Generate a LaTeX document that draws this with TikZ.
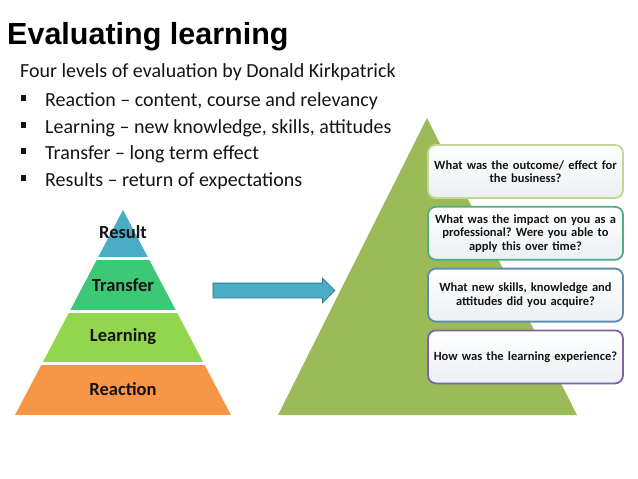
\documentclass[tikz,border=0pt]{standalone}
\usepackage{fontspec}
\setmainfont{Carlito}
\newfontfamily\titlefont{Liberation Sans}
\usepackage{xcolor}
\usepackage{tikz}
\usetikzlibrary{positioning, shapes.arrows}
\frenchspacing

\definecolor{resultblue}{RGB}{75,172,198}
\definecolor{transfergreen}{RGB}{61,200,118}
\definecolor{learninggreen}{RGB}{146,214,80}
\definecolor{reactionorange}{RGB}{247,150,70}
\definecolor{bigtri}{RGB}{155,187,89}
\definecolor{arrowline}{RGB}{49,120,140}
\definecolor{bordA}{RGB}{195,214,155}
\definecolor{bordB}{RGB}{84,172,132}
\definecolor{bordC}{RGB}{96,140,178}
\definecolor{bordD}{RGB}{128,100,162}
\definecolor{boxshade}{RGB}{236,240,243}
\definecolor{textdark}{RGB}{20,20,20}

\begin{document}
\begin{tikzpicture}[x=1pt, y=-1pt,
    tier/.style={font=\fontsize{18.5}{20}\selectfont\bfseries, text=textdark},
    qbox/.style={draw, line width=1.8pt, rounded corners=8pt, top color=white, bottom color=boxshade, minimum width=195pt, minimum height=53pt, text width=188pt, align=center, font=\fontsize{12.5}{13.5}\selectfont\bfseries, text=textdark},
    bulline/.style={anchor=base west, inner sep=0pt, font=\fontsize{20}{24}\selectfont, text=textdark},
    bul/.style={fill=textdark, minimum size=5.5pt, inner sep=0pt}
  ]
  \fill[white] (0,0) rectangle (638,479);
  \useasboundingbox (0,0) rectangle (638,479);

  % heading and list
  \node[anchor=base west, inner sep=0pt, font=\titlefont\fontsize{30.5}{34}\selectfont\bfseries] (title) at (7,45) {Evaluating learning};
  \node[bulline] (levels) at (20,77) {Four levels of evaluation by Donald Kirkpatrick};
  \node[bul] (b1) at (23.5,98) {};
  \node[bul] (b2) at (23.5,125) {};
  \node[bul] (b3) at (23.5,151) {};
  \node[bul] (b4) at (23.5,178) {};
  \node[bulline] (reaction) at (45,106) {Reaction – content, course and relevancy};
  \node[bulline] (learning) at (45,133) {Learning – new knowledge, skills, attitudes};
  \node[bulline] (transfer) at (45,159) {Transfer – long term effect};
  \node[bulline] (results) at (45,186) {Results – return of expectations};

  % small pyramid
  \begin{scope}
    \clip (123,210) -- (231,415) -- (15,415) -- cycle;
    \fill[resultblue] (0,200) rectangle (240,257);
    \fill[transfergreen] (0,260) rectangle (240,310);
    \fill[learninggreen] (0,313) rectangle (240,362);
    \fill[reactionorange] (0,365) rectangle (240,415);
  \end{scope}
  \node[tier] (lvl4) at (123,232) {Result};
  \node[tier] (lvl3) at (123,285) {Transfer};
  \node[tier] (lvl2) at (123,337) {Learning};
  \node[tier] (lvl1) at (123,389) {Reaction};

  \node[single arrow, draw=arrowline, fill=resultblue, line width=0.8pt, minimum height=122pt, inner xsep=0pt, inner ysep=7pt, single arrow head extend=5pt, anchor=tail] (push) at (212.5,290.5) {};

  % big pyramid with questions
  \fill[bigtri] (427,118) -- (577,415) -- (278,415) -- cycle;
  \node[qbox, draw=bordA] (q4) at (525.5,171.5) {What was the outcome/ effect for\\the business?};
  \node[qbox, draw=bordB, below=7pt of q4] (q3) {What was the impact on you as a\\professional? Were you able to\\apply this over time?};
  \node[qbox, draw=bordC, below=7pt of q3] (q2) {What new skills, knowledge and\\attitudes did you acquire?};
  \node[qbox, draw=bordD, below=7pt of q2] (q1) {How was the learning experience?};
\end{tikzpicture}
\end{document}
